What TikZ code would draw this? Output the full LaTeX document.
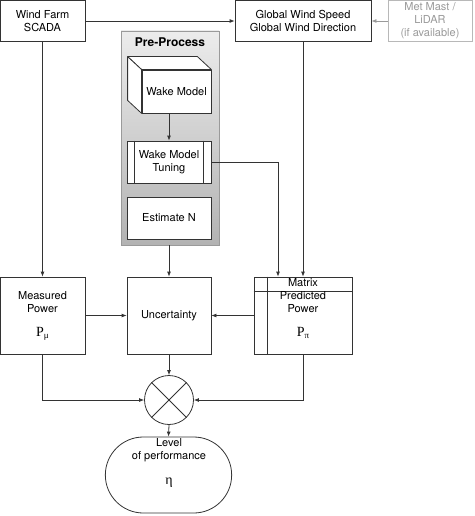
\documentclass[tikz,border=0pt]{standalone}
\usepackage{fontspec}
\setmainfont{TeX Gyre Heros}
\newfontfamily\symfont{Liberation Serif}
\usepackage{xcolor}
\usepackage{tikz}
\usetikzlibrary{positioning,arrows.meta,shapes.misc}
\definecolor{lnclr}{HTML}{333333}
\definecolor{faint}{HTML}{9A9A9A}
\tikzset{
	blk/.style = {shape=rectangle, draw=lnclr, line width=0.8pt,
		align=center, inner sep=0pt, fill=white,
		font=\fontsize{11}{13}\selectfont},
	flw/.style = {draw=lnclr, line width=0.8pt, -{Latex[length=5pt,width=4pt]}},
	sym/.style = {font=\symfont\fontsize{14}{16}\selectfont}
}
\newcommand{\Psub}[1]{{\symfont\fontsize{14}{16}\selectfont P\raisebox{-2pt}{\fontsize{9}{10}\selectfont #1}}}

\begin{document}
\begin{tikzpicture}
			[x=1pt, y=-1pt]
\useasboundingbox (0,0) rectangle (474,516);
% top row
\node [blk, minimum width=85, minimum height=41.5] (scada) at (42.5,21) {Wind Farm\\SCADA};
\node [blk, minimum width=136, minimum height=41.5] (glob) at (303,21) {Global Wind Speed\\Global Wind Direction};
\node [blk, draw=faint!70, text=faint, minimum width=84, minimum height=41.5] (met) at (430,21) {Met Mast /\\LiDAR\\(if available)};
% pre-process group
\node [shape=rectangle, draw=faint, line width=0.8pt, top color=gray!15, bottom color=gray!60,
       minimum width=98, minimum height=214] (pre) at (170,138) {};
\node [font=\bfseries\fontsize{12}{14}\selectfont] (pretitle) at (170,42) {Pre-Process};
\node [blk, minimum width=69, minimum height=43] (wake) at (176.5,91.5) {Wake Model};
\draw [lnclr, line width=0.8pt, fill=white, line join=round]
      (wake.north west) -- ++(-14,-13) -- ([shift={(-14,-13)}]wake.north east) -- (wake.north east) -- cycle;
\draw [lnclr, line width=0.8pt, fill=white, line join=round]
      (wake.north west) -- ++(-14,-13) -- ([shift={(-14,-13)}]wake.south west) -- (wake.south west) -- cycle;
\node [blk, minimum width=84, minimum height=42] (tune) at (169,162) {Wake Model\\Tuning};
\draw [lnclr, line width=0.8pt] ([xshift=8]tune.north west) -- ([xshift=8]tune.south west)
      ([xshift=-8]tune.north east) -- ([xshift=-8]tune.south east);
\node [blk, minimum width=84, minimum height=42] (estn) at (169,218) {Estimate N};
% middle row
\node [blk, minimum width=85, minimum height=77] (meas) at (42.5,315.5) {Measured\\Power\\[11pt]\Psub{μ}};
\node [blk, minimum width=84, minimum height=77] (unc) at (169,315.5) {Uncertainty};
\node [blk, minimum width=98, minimum height=77] (mat) at (303,315.5) {};
\draw [lnclr, line width=0.8pt] ([yshift=-15]mat.north west) -- ([yshift=-15]mat.north east)
      ([xshift=14]mat.north west) -- ([xshift=14]mat.south west);
\node [align=center, font=\fontsize{11}{13}\selectfont] (mattxt) at (303,309) {Matrix\\Predicted\\Power\\[11pt]\Psub{π}};
% bottom
\node [shape=circle, draw=lnclr, line width=0.8pt, minimum size=49, inner sep=0pt] (mult) at (169,400) {};
\draw [lnclr, line width=0.8pt] (mult.45) -- (mult.225) (mult.135) -- (mult.315);
\node [shape=rounded rectangle, draw=lnclr, line width=0.8pt, minimum width=133, minimum height=76] (lvl) at (168.5,475) {};
\node [align=center, font=\fontsize{11}{13}\selectfont] (lvltxt) at (169,463) {Level\\of performance\\[12pt]{\symfont\fontsize{14}{16}\selectfont η}};
% connectors
\draw [flw] (scada.east) -- (glob.west);
\draw [flw, draw=faint] (met.west) -- (glob.east);
\draw [flw] (wake.south -| tune.north) -- (tune.north);
\draw [flw] (pre.south -| unc.north) -- (unc.north);
\draw [flw] (tune.east) -| ([xshift=-25]mat.north);
\draw [flw] (glob.south) -- (mat.north);
\draw [flw] (scada.south) -- (meas.north);
\draw [flw] (meas.east) -- (unc.west);
\draw [flw] (mat.west) -- (unc.east);
\draw [flw] (unc.south) -- (mult.north);
\draw [flw] (meas.south) |- (mult.west);
\draw [flw] (mat.south) |- (mult.east);
\draw [flw] (mult.south) -- (lvl.north);
		\end{tikzpicture}
\end{document}
